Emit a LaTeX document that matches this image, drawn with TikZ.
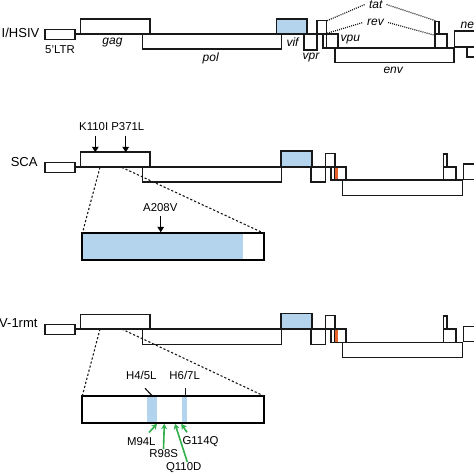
\documentclass[tikz,border=0pt]{standalone}
\usepackage{fontspec}
\setmainfont{Liberation Sans}
\usetikzlibrary{arrows.meta}
\definecolor{vifblue}{RGB}{180,211,236}
\definecolor{mutorange}{RGB}{232,96,44}
\definecolor{mutgreen}{RGB}{50,175,75}
\definecolor{linegray}{RGB}{25,25,25}
\tikzset{
  gene/.style={draw=linegray, line width=1.6pt},
  genelabel/.style={inner sep=0pt, font=\fontsize{12}{14}\selectfont\itshape},
  rowlabel/.style={inner sep=0pt, anchor=east, font=\fontsize{13}{15}\selectfont},
  mutlabel/.style={inner sep=0pt, font=\fontsize{11.4}{13}\selectfont},
  marrow/.style={draw=black, line width=1.5pt, -{Triangle[length=5.5pt,width=6.5pt]}},
  garrow/.style={draw=mutgreen, line width=1.6pt, -{Stealth[length=5.5pt,width=6pt]}},
  zoomline/.style={draw=linegray, line width=1.1pt, dash pattern=on 2.2pt off 2pt},
  exonline/.style={draw=linegray, line width=1.2pt, dash pattern=on 1pt off 1.1pt},
  zoombox/.style={draw=black, line width=2.3pt}
}
\newcommand\hsivrow{%
  \draw[gene] (45,-4.4) rectangle (74.7,5.6);
  \draw[gene] (74.7,0) -- (80.3,0);
  \draw[gene] (80.3,-14.5) rectangle (149.7,0);
  \draw[gene] (142.3,0) rectangle (281.3,15.3);
  \draw[gene,fill=vifblue] (280.7,-15.7) rectangle (311.7,0);
  \draw[gene] (311,0) rectangle (325.3,15.3);
  \draw[gene] (325.3,-13.4) rectangle (335,0);
  \fill[mutorange] (334.8,0.8) rectangle (337.8,13.1);
  \draw[gene] (330.7,0) rectangle (334.3,13.3);
  \draw[gene] (334.3,0) rectangle (346,13.3);
  \draw[gene] (342.3,13.3) rectangle (462.3,28.6);
  \draw[gene] (443.3,-13) rectangle (446.7,0);
  \draw[gene] (443.3,0) rectangle (455.7,13.3);
  \draw[gene] (463.3,-2.7) rectangle (495,12.6);
}
\begin{document}
\begin{tikzpicture}[x=1pt,y=-1pt]
\useasboundingbox (0,0) rectangle (474,474);
\clip (0,0) rectangle (474,474);
\fill[white] (0,0) rectangle (474,474);

% ---------- row 1 ----------
\begin{scope}[shift={(0,33.7)}]
  \draw[gene] (45,-4.4) rectangle (74.7,5.6);
  \draw[gene] (74.7,0) -- (80.3,0);
  \draw[gene] (80.3,-14.5) rectangle (149.7,0);
  \draw[gene] (142.3,0) rectangle (281.3,15.3);
  \draw[gene,fill=vifblue] (276.3,-14.7) rectangle (306.7,0);
  \draw[gene] (303.7,0) rectangle (317,16);
  \draw[gene] (316.7,-13.4) rectangle (326.3,0);
  \draw[gene] (323,0) rectangle (326.3,14);
  \draw[gene] (326.3,0) rectangle (338,14);
  \draw[gene] (334.7,14) rectangle (453.7,28.6);
  \draw[gene] (435,-12.4) rectangle (438.7,0);
  \draw[gene] (435,0) rectangle (447,14);
  \draw[gene] (454.3,-2.7) rectangle (495,13);
  \draw[gene] (466.7,13) -- (466.7,23) -- (495,23);
  \coordinate (tatA) at (327,-13);
  \coordinate (revA) at (327,-0.4);
  \coordinate (tatB) at (436.3,-12.7);
  \coordinate (revB) at (435,1.6);
\end{scope}
\node[rowlabel] (lab1) at (39.5,33.3) {I/HSIV};
\node[mutlabel] (ltr) at (60,49.2) {5'LTR};
\node[genelabel] (gag) at (112.5,43) {gag};
\node[genelabel] (pol) at (210.7,58.3) {pol};
\node[genelabel] (vif) at (292.5,42) {vif};
\node[genelabel] (vpr) at (311,58) {vpr};
\node[genelabel] (vpu) at (350.3,39.5) {vpu};
\node[genelabel] (env) at (393.2,70) {env};
\node[genelabel] (tat) at (375.7,4.5) {tat};
\node[genelabel] (rev) at (375.5,22.5) {rev};
\node[genelabel, anchor=west] (nef) at (460.5,25) {ne};
\draw[exonline] (tatA) -- ([xshift=-4pt]tat.west);
\draw[exonline] ([xshift=4pt]tat.east) -- (tatB);
\draw[exonline] (revA) -- ([xshift=-4pt]rev.west);
\draw[exonline] ([xshift=4pt]rev.east) -- (revB);

% ---------- row 2 ----------
\begin{scope}[shift={(0,166.7)}]
  \hsivrow
\end{scope}
\node[rowlabel] (lab2) at (37.7,162.5) {SCA};
\node[mutlabel] (k110) at (93.7,126.7) {K110I};
\node[mutlabel] (p371) at (127.8,126.7) {P371L};
\coordinate (k110t) at (95.3,152.3);
\coordinate (p371t) at (125.7,152.3);
\draw[marrow] (95.3,135.5) -- (k110t);
\draw[marrow] (125.7,135.5) -- (p371t);
\coordinate (zA1) at (100,167.3);
\coordinate (zA2) at (121.7,167.3);
\fill[vifblue] (83.3,234.3) rectangle (242.7,259.3);
\draw[zoombox] (82.3,233.3) rectangle (264,260.3);
\coordinate (zA3) at (82.3,233.3);
\coordinate (zA4) at (264,233.3);
\draw[zoomline] (zA1) -- (zA3);
\draw[zoomline] (zA2) -- (zA4);
\node[mutlabel] (a208) at (160.3,207.8) {A208V};
\draw[marrow] (160.7,216) -- (160.7,232.3);

% ---------- row 3 ----------
\begin{scope}[shift={(0,329)}]
  \hsivrow
\end{scope}
\node[rowlabel] (lab3) at (37.7,323.5) {V-1rmt};
\coordinate (zB1) at (100,329);
\coordinate (zB2) at (121.7,329);
\fill[white] (82.3,396) rectangle (264,422.7);
\fill[vifblue] (146.7,397) rectangle (156.7,421.7);
\fill[vifblue] (181.7,397) rectangle (187.3,421.7);
\draw[zoombox] (82.3,396) rectangle (264,422.7);
\coordinate (zB3) at (82.3,396);
\coordinate (zB4) at (264,396);
\draw[zoomline] (zB1) -- (zB3);
\draw[zoomline] (zB2) -- (zB4);
\node[mutlabel] (h45) at (141.3,375.5) {H4/5L};
\node[mutlabel] (h67) at (184.7,375.5) {H6/7L};
\draw[linegray, line width=1.2pt] (145,388.3) -- (152,395.5);
\draw[linegray, line width=1.2pt] (185.3,388.3) -- (185.3,396);
\node[mutlabel] (m94) at (141.3,441.2) {M94L};
\node[mutlabel] (r98) at (163.7,453.8) {R98S};
\node[mutlabel] (q110) at (183.7,468) {Q110D};
\node[mutlabel] (g114) at (200.5,441.2) {G114Q};
\draw[garrow] (149,432.5) -- (157,423.8);
\draw[garrow] (163.5,449) -- (164.3,423.8);
\draw[garrow] (187.3,462) -- (175,423.8);
\draw[garrow] (187,432.3) -- (181.3,423.8);
\end{tikzpicture}
\end{document}
